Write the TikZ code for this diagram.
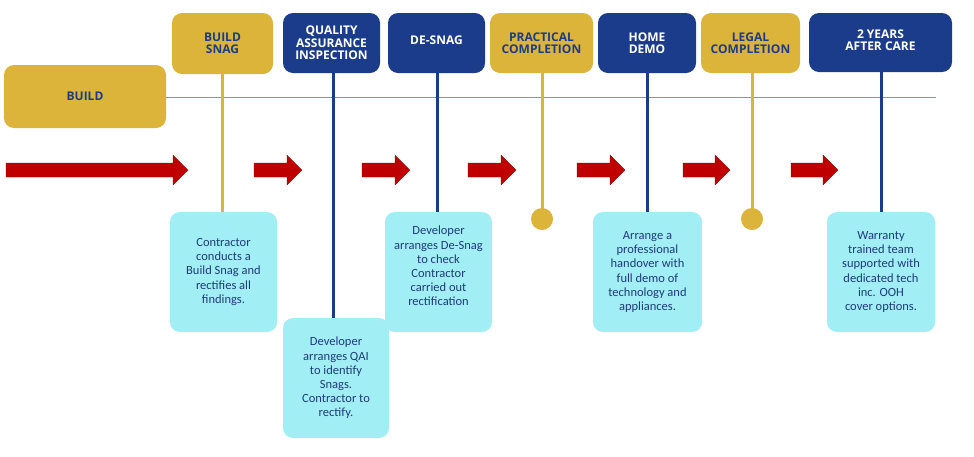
\documentclass[tikz,border=0pt]{standalone}
\usepackage{fontspec}
\setmainfont{Carlito}
\newfontfamily\hdr{Open Sans}
\definecolor{gold}{HTML}{DDB43A}
\definecolor{navy}{HTML}{1B3C8A}
\definecolor{cyanb}{HTML}{A2EEF5}
\definecolor{redar}{HTML}{C00000}
\definecolor{tline}{HTML}{7F97B5}
\definecolor{txt}{HTML}{1F3A7A}
\newcommand\myredarrow[3]{\filldraw[fill=redar,draw=redar!70!black,line width=0.3pt] (#1,#3-7) -- (#2-15,#3-7) -- (#2-15,#3-15) -- (#2,#3) -- (#2-15,#3+15) -- (#2-15,#3+7) -- (#1,#3+7) -- cycle;}
\begin{document}
\begin{tikzpicture}[x=1pt,y=-1pt,
 hbox/.style={rounded corners=10pt,align=center,font=\hdr\bfseries\fontsize{12}{12.5}\selectfont,inner sep=0pt},
 gbox/.style={hbox,fill=gold,text=navy},
 nbox/.style={hbox,fill=navy,text=white},
 cbox/.style={rounded corners=10pt,fill=cyanb,text=txt,align=center,font=\fontsize{12.5}{14.2}\selectfont,inner sep=0pt},
 gl/.style={gold,line width=3pt},
 nl/.style={navy,line width=3pt}
]
\useasboundingbox (0,0) rectangle (974,456);
\draw[tline,line width=1pt] (166,97) -- (936,97);
\coordinate (c1) at (222,212);
\coordinate (c2) at (333,318);
\coordinate (c3) at (437,212);
\coordinate (c4) at (542,219);
\coordinate (c5) at (647,212);
\coordinate (c6) at (752,219);
\coordinate (c7) at (881,212);
\draw[gl] (222,74) -- (c1);
\draw[nl] (333,73) -- (c2);
\draw[nl] (437,73) -- (c3);
\draw[gl] (542,73) -- (c4);
\draw[nl] (647,73) -- (c5);
\draw[gl] (752,73) -- (c6);
\draw[nl] (881,72) -- (c7);
\fill[gold] (c4) circle (11);
\fill[gold] (c6) circle (11);
\node[gbox,minimum width=162pt,minimum height=63pt] (build) at (85,96.5) {BUILD};
\node[gbox,minimum width=101pt,minimum height=61pt] (h1) at (222.5,43.5) {BUILD\\SNAG};
\node[nbox,minimum width=97pt,minimum height=60pt] (h2) at (331.5,43) {QUALITY\\ASSURANCE\\INSPECTION};
\node[nbox,minimum width=97pt,minimum height=60pt] (h3) at (436.5,43) {};
\node[text=white,font=\hdr\bfseries\fontsize{12}{12.5}\selectfont] (t3) at (436.5,40) {DE-SNAG};
\node[gbox,minimum width=103pt,minimum height=60pt] (h4) at (541.5,43) {PRACTICAL\\COMPLETION};
\node[nbox,minimum width=98pt,minimum height=60pt] (h5) at (647,43) {HOME\\DEMO};
\node[gbox,minimum width=99pt,minimum height=60pt] (h6) at (750.5,43) {LEGAL\\COMPLETION};
\node[nbox,minimum width=143pt,minimum height=59pt] (h7) at (880.5,42.5) {};
\node[text=white,align=center,font=\hdr\bfseries\fontsize{12}{12.5}\selectfont,inner sep=0pt] (t7) at (880.5,40) {2 YEARS\\AFTER CARE};
\myredarrow{6}{188}{170}
\myredarrow{254}{302}{170}
\myredarrow{362}{410}{170}
\myredarrow{468}{516}{170}
\myredarrow{577}{625}{170}
\myredarrow{683}{730}{170}
\myredarrow{791}{838}{170}
\node[cbox,minimum width=107pt,minimum height=120pt] (b1) at (223.5,272) {Contractor\\conducts a\\Build Snag and\\rectifies all\\findings.};
\node[cbox,minimum width=106pt,minimum height=120pt] (b2) at (336,378) {Developer\\arranges QAI\\to identify\\Snags.\\Contractor to\\rectify.};
\node[cbox,minimum width=107pt,minimum height=120pt] (b3) at (438.5,272) {};
\node[text=txt,align=center,font=\fontsize{12.5}{14.2}\selectfont,inner sep=0pt] (t3b) at (438.5,266) {Developer\\arranges De-Snag\\to check\\Contractor\\carried out\\rectification};
\node[cbox,minimum width=109pt,minimum height=120pt] (b5) at (647.5,272) {Arrange a\\professional\\handover with\\full demo of\\technology and\\appliances.};
\node[cbox,minimum width=108pt,minimum height=120pt] (b7) at (881,272) {Warranty\\trained team\\supported with\\dedicated tech\\inc. OOH\\cover options.};
\end{tikzpicture}
\end{document}
